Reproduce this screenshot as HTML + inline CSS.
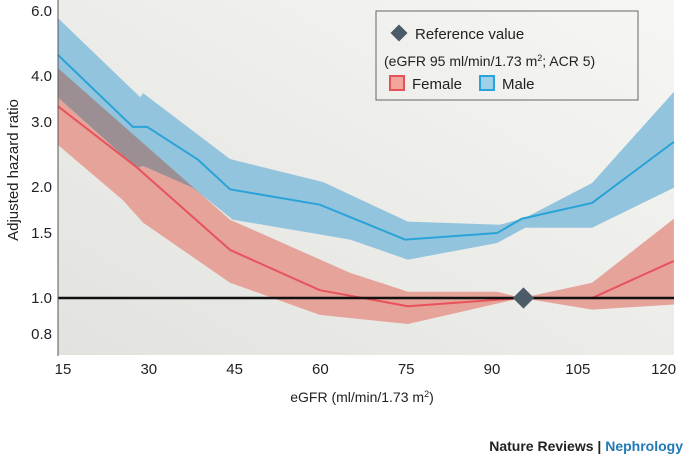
<!DOCTYPE html>
<html><head><meta charset="utf-8"><style>
body{margin:0;background:#fff;width:685px;height:463px;overflow:hidden;font-family:"Liberation Sans",sans-serif}
text{font-family:"Liberation Sans",sans-serif}
</style></head><body>
<svg id="chart" width="685" height="463" xmlns="http://www.w3.org/2000/svg">
<defs><linearGradient id="bg" x1="0" y1="1" x2="1" y2="0"><stop offset="0" stop-color="#e2e2de"/><stop offset="1" stop-color="#f6f6f4"/></linearGradient>
<clipPath id="maleClip"><polygon id="maleClipPoly" points=""/></clipPath></defs>
<rect x="58" y="0" width="616" height="355" fill="url(#bg)"/>
<g id="marks"></g>
<line x1="58" y1="0" x2="58" y2="356" stroke="#555" stroke-width="1"/>
<g id="ticks"></g>
<text transform="translate(18,170) rotate(-90)" text-anchor="middle" font-size="15" fill="#222">Adjusted hazard ratio</text>
<text x="362" y="402" text-anchor="middle" font-size="14" fill="#222">eGFR (ml/min/1.73 m<tspan font-size="9" dy="-5">2</tspan><tspan dy="5">)</tspan></text>
<g>
<rect x="376" y="11" width="262" height="89" fill="none" stroke="#666" stroke-width="1"/>
<rect x="393" y="27" width="12" height="12" fill="#4b5b68" transform="rotate(45 399 33)"/>
<text x="415" y="39" font-size="15" fill="#222">Reference value</text>
<text x="384" y="66" font-size="14" fill="#222">(eGFR 95 ml/min/1.73 m<tspan font-size="9" dy="-5">2</tspan><tspan dy="5">; ACR 5)</tspan></text>
<rect x="390" y="76" width="14" height="14" fill="#f1a59b" stroke="#e5525a" stroke-width="2"/>
<text x="412" y="89" font-size="15" fill="#222">Female</text>
<rect x="480" y="76" width="14" height="14" fill="#9fd0ea" stroke="#2aa3d8" stroke-width="2"/>
<text x="502" y="89" font-size="15" fill="#222">Male</text>
</g>
<text x="683" y="451" text-anchor="end" font-size="14" font-weight="bold" fill="#222">Nature Reviews | <tspan fill="#1f7ab5">Nephrology</tspan></text>
</svg>
<script>
const xTicks=[15,30,45,60,75,90,105,120];
const yTicks=[0.8,1.0,1.5,2.0,3.0,4.0,6.0];
const maleX=[14.1,27.2,29.7,38.6,44.2,59.9,74.8,90.9,95.2,107.5,121.8];
const maleHR=[4.56,2.91,2.91,2.37,1.97,1.79,1.44,1.50,1.64,1.81,2.65];
const maleUpX=[14.1,28.5,29,44.2,60.5,75.3,91.4,95.8,107.5,121.8];
const maleUp=[5.74,3.50,3.59,2.38,2.06,1.61,1.58,1.65,2.05,3.62];
const maleLoX=[14.1,27.9,29,37.7,44.7,65.2,75.3,90.9,95.8,107.5,121.8];
const maleLo=[3.50,2.25,2.28,1.99,1.63,1.44,1.27,1.41,1.55,1.55,1.99];
const femX=[14.1,27.9,44.2,59.9,75.3,95.2,107.5,121.8];
const femHR=[3.31,2.26,1.35,1.05,0.95,1.0,1.0,1.26];
const femUpX=[14.1,44.2,65.2,75.3,90.9,95.2,107.5,121.8];
const femUp=[4.20,1.63,1.17,1.04,1.04,1.0,1.10,1.64];
const femLoX=[14.1,25.5,29,44.2,59.9,75.3,95.2,107.5,121.8];
const femLo=[2.60,1.84,1.60,1.10,0.90,0.85,1.0,0.93,0.96];
const refX=[95.5];const refHR=[1.0];
const xs=v=>63+(v-15)*5.72;
const ys=v=>298-369*Math.log10(v);
const NS='http://www.w3.org/2000/svg';
const marks=document.getElementById('marks'),ticks=document.getElementById('ticks');
function el(t,a,p){const e=document.createElementNS(NS,t);for(const k in a)e.setAttribute(k,a[k]);p.appendChild(e);return e;}
function bandPts(ux,u,lx,l){
 let pts=ux.map((x,i)=>xs(x)+','+ys(u[i]));
 for(let i=lx.length-1;i>=0;i--)pts.push(xs(lx[i])+','+ys(l[i]));
 return pts.join(' ');
}
function line(x,y,c,name){
 const p=el('polyline',{points:x.map((v,i)=>xs(v)+','+ys(y[i])).join(' '),fill:'none',stroke:c,'stroke-width':2},marks);
 
 
}
const femPts=bandPts(femUpX,femUp,femLoX,femLo);
const malePts=bandPts(maleUpX,maleUp,maleLoX,maleLo);
document.getElementById('maleClipPoly').setAttribute('points',malePts);
const fb=el('polygon',{points:femPts,fill:'#e6a39a'},marks);


const mb=el('polygon',{points:malePts,fill:'#93c4de'},marks);


const ob=el('polygon',{points:femPts,fill:'#9c8f93','clip-path':'url(#maleClip)'},marks);


line(maleX,maleHR,'#2aa3d8','male-line');
line(femX,femHR,'#e8525a','female-line');
const rl=el('line',{x1:58,x2:674,y1:ys(1),y2:ys(1),stroke:'#111','stroke-width':2.5},marks);


refX.forEach((v,i)=>{const cx=xs(v),cy=ys(refHR[i]);
 const d=el('rect',{x:cx-7.5,y:cy-7.5,width:15,height:15,fill:'#4b5b68',transform:`rotate(45 ${cx} ${cy})`},marks);
 
 });
xTicks.forEach(v=>{const t=el('text',{x:xs(v),y:374,'text-anchor':'middle','font-size':15,fill:'#222'},ticks);t.textContent=v;
 
 });
yTicks.forEach(v=>{const t=el('text',{x:52,y:ys(v)+5,'text-anchor':'end','font-size':15,fill:'#222'},ticks);t.textContent=v.toFixed(1);
 
 });
</script>
</body></html>
